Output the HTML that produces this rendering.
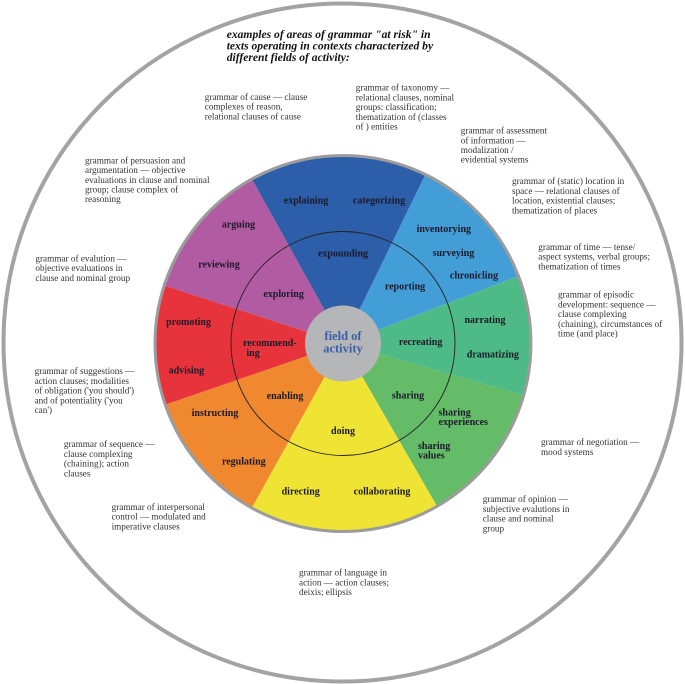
<!DOCTYPE html>
<html><head><meta charset="utf-8"><style>
html,body{margin:0;padding:0;background:#fff;}
svg{display:block;}
.s{font-family:"Liberation Serif",serif;font-weight:bold;font-size:10px;fill:#1a1a2a;text-anchor:middle;}
.a{font-family:"Liberation Serif",serif;font-size:9.2px;fill:#333;}
</style></head><body>
<svg width="685" height="684" viewBox="0 0 685 684" xmlns="http://www.w3.org/2000/svg">
<circle cx="342.5" cy="342.5" r="339" fill="#fff" stroke="#a3a3a3" stroke-width="4"/>
<g>
<path d="M343 343.5 L252.3 179.95 A187 187 0 0 1 425 175.4 Z" fill="#2d5ea9"/>
<path d="M343 343.5 L425 175.4 A187 187 0 0 1 517.6 276.5 Z" fill="#439dd7"/>
<path d="M343 343.5 L517.6 276.5 A187 187 0 0 1 522.8 395 Z" fill="#4eba85"/>
<path d="M343 343.5 L522.8 395 A187 187 0 0 1 436.5 505.4 Z" fill="#64bb68"/>
<path d="M343 343.5 L436.5 505.4 A187 187 0 0 1 252.3 507.1 Z" fill="#efe434"/>
<path d="M343 343.5 L252.3 507.1 A187 187 0 0 1 166.2 404.4 Z" fill="#ef882e"/>
<path d="M343 343.5 L166.2 404.4 A187 187 0 0 1 165.1 285.7 Z" fill="#e7333b"/>
<path d="M343 343.5 L165.1 285.7 A187 187 0 0 1 252.3 179.95 Z" fill="#b15ca2"/>
</g>
<circle cx="343" cy="343.5" r="188" fill="none" stroke="#9c9c9c" stroke-width="3"/>
<circle cx="343" cy="343.5" r="112" fill="none" stroke="#222" stroke-width="0.9"/>
<circle cx="343" cy="343.5" r="38" fill="#b4b6b8"/>
<text x="343" y="340" font-family="Liberation Serif,serif" font-weight="bold" font-size="12.5" fill="#3a5ea8" text-anchor="middle">field of</text>
<text x="343" y="352.5" font-family="Liberation Serif,serif" font-weight="bold" font-size="12.5" fill="#3a5ea8" text-anchor="middle">activity</text>

<text class="s" x="306" y="203.5">explaining</text>
<text class="s" x="379" y="203.5">categorizing</text>
<text class="s" x="238.5" y="227.5">arguing</text>
<text class="s" x="219" y="267.5">reviewing</text>
<text class="s" x="283.6" y="297">exploring</text>
<text class="s" x="343" y="256.5">expounding</text>
<text class="s" x="443.8" y="232">inventorying</text>
<text class="s" x="453.4" y="256">surveying</text>
<text class="s" x="474" y="278.5">chronicling</text>
<text class="s" x="405" y="289.3">reporting</text>
<text class="s" x="485" y="323">narrating</text>
<text class="s" x="492.8" y="357.5">dramatizing</text>
<text class="s" x="420.6" y="345">recreating</text>
<text class="s" x="408" y="398.5">sharing</text>
<text class="s" x="438.5" y="415.5" style="text-anchor:start">sharing</text>
<text class="s" x="438.5" y="425" style="text-anchor:start">experiences</text>
<text class="s" x="418" y="449" style="text-anchor:start">sharing</text>
<text class="s" x="418" y="458.5" style="text-anchor:start">values</text>
<text class="s" x="343" y="434">doing</text>
<text class="s" x="300.7" y="494.5">directing</text>
<text class="s" x="382" y="494.5">collaborating</text>
<text class="s" x="285" y="399">enabling</text>
<text class="s" x="215" y="416">instructing</text>
<text class="s" x="243.8" y="464.5">regulating</text>
<text class="s" x="188.6" y="325">promoting</text>
<text class="s" x="186.4" y="373.5">advising</text>
<text class="s" x="243" y="346" style="text-anchor:start">recommend-</text>
<text class="s" x="246.4" y="356" style="text-anchor:start">ing</text>

<g font-family="Liberation Serif,serif" font-weight="bold" font-style="italic" font-size="11.6" fill="#111">
<text x="226.7" y="38">examples of areas of grammar "at risk" in</text>
<text x="226.7" y="49.5">texts operating in contexts characterized by</text>
<text x="226.7" y="61">different fields of activity:</text>
</g>

<text class="a" x="204.8" y="100"><tspan x="204.8">grammar of cause — clause</tspan><tspan x="204.8" dy="9.7">complexes of reason,</tspan><tspan x="204.8" dy="9.7">relational clauses of cause</tspan></text>
<text class="a" x="355.8" y="90.7"><tspan x="355.8">grammar of taxonomy —</tspan><tspan x="355.8" dy="9.7">relational clauses, nominal</tspan><tspan x="355.8" dy="9.7">groups: classification;</tspan><tspan x="355.8" dy="9.7">thematization of (classes</tspan><tspan x="355.8" dy="9.7">of ) entities</tspan></text>
<text class="a" x="460.8" y="133.6"><tspan x="460.8">grammar of assessment</tspan><tspan x="460.8" dy="9.7">of information —</tspan><tspan x="460.8" dy="9.7">modalization /</tspan><tspan x="460.8" dy="9.7">evidential systems</tspan></text>
<text class="a" x="512" y="184.2"><tspan x="512">grammar of (static) location in</tspan><tspan x="512" dy="9.7">space — relational clauses of</tspan><tspan x="512" dy="9.7">location, existential clauses;</tspan><tspan x="512" dy="9.7">thematization of places</tspan></text>
<text class="a" x="538.3" y="250"><tspan x="538.3">grammar of time — tense/</tspan><tspan x="538.3" dy="9.7">aspect systems, verbal groups;</tspan><tspan x="538.3" dy="9.7">thematization of times</tspan></text>
<text class="a" x="558" y="297.7"><tspan x="558">grammar of episodic</tspan><tspan x="558" dy="9.7">development: sequence —</tspan><tspan x="558" dy="9.7">clause complexing</tspan><tspan x="558" dy="9.7">(chaining), circumstances of</tspan><tspan x="558" dy="9.7">time (and place)</tspan></text>
<text class="a" x="541" y="445.2"><tspan x="541">grammar of negotiation —</tspan><tspan x="541" dy="9.7">mood systems</tspan></text>
<text class="a" x="482.7" y="502.2"><tspan x="482.7">grammar of opinion —</tspan><tspan x="482.7" dy="9.7">subjective evalutions in</tspan><tspan x="482.7" dy="9.7">clause and nominal</tspan><tspan x="482.7" dy="9.7">group</tspan></text>
<text class="a" x="299" y="575.6"><tspan x="299">grammar of language in</tspan><tspan x="299" dy="9.7">action — action clauses;</tspan><tspan x="299" dy="9.7">deixis; ellipsis</tspan></text>
<text class="a" x="111.6" y="510"><tspan x="111.6">grammar of interpersonal</tspan><tspan x="111.6" dy="9.7">control — modulated and</tspan><tspan x="111.6" dy="9.7">imperative clauses</tspan></text>
<text class="a" x="63.9" y="447.2"><tspan x="63.9">grammar of sequence —</tspan><tspan x="63.9" dy="9.7">clause complexing</tspan><tspan x="63.9" dy="9.7">(chaining); action</tspan><tspan x="63.9" dy="9.7">clauses</tspan></text>
<text class="a" x="34.6" y="374.2"><tspan x="34.6">grammar of suggestions —</tspan><tspan x="34.6" dy="9.7">action clauses; modalities</tspan><tspan x="34.6" dy="9.7">of obligation ('you should')</tspan><tspan x="34.6" dy="9.7">and of potentiality ('you</tspan><tspan x="34.6" dy="9.7">can')</tspan></text>
<text class="a" x="35.4" y="261.4"><tspan x="35.4">grammar of evalution —</tspan><tspan x="35.4" dy="9.7">objective evaluations in</tspan><tspan x="35.4" dy="9.7">clause and nominal group</tspan></text>
<text class="a" x="85" y="163.4"><tspan x="85">grammar of persuasion and</tspan><tspan x="85" dy="9.7">argumentation — objective</tspan><tspan x="85" dy="9.7">evaluations in clause and nominal</tspan><tspan x="85" dy="9.7">group; clause complex of</tspan><tspan x="85" dy="9.7">reasoning</tspan></text>
</svg>
</body></html>
